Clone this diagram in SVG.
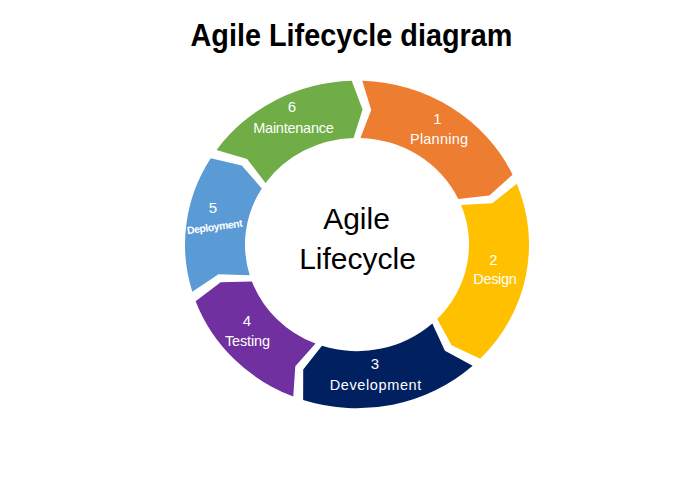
<svg xmlns="http://www.w3.org/2000/svg" width="700" height="478" viewBox="0 0 700 478">
<style>
.seg{stroke:none}
.num{font-family:"Liberation Sans",Arial,sans-serif;font-size:15px;fill:#ffffff;text-anchor:middle}
.lbl{font-family:"Liberation Sans",Arial,sans-serif;font-size:14.5px;fill:#ffffff;text-anchor:middle}
.small{font-family:"Liberation Sans",Arial,sans-serif;font-size:10.5px;font-weight:bold;fill:#ffffff;text-anchor:middle}
.title{font-family:"Liberation Sans",Arial,sans-serif;font-size:32px;font-weight:bold;fill:#000;text-anchor:middle}
.center{font-family:"Liberation Sans",Arial,sans-serif;font-size:30px;fill:#000;text-anchor:middle}
</style>
<rect width="700" height="478" fill="#ffffff"/>
<text class="title" x="351.5" y="46" textLength="322" lengthAdjust="spacingAndGlyphs">Agile Lifecycle diagram</text>
<g id="node-1-planning">
<g transform="translate(357 244.5) scale(1 0.952)"><path class="seg" fill="#ED7D31" d="M5.25,-171.92 A172,172 0 0 1 155.57,-73.37 L132.35,-51.47 L101.30,-47.78 A112,112 0 0 0 3.42,-111.95 L14.23,-141.29 Z"/></g>
<text class="num" x="437.5" y="123.5">1</text>
<text class="lbl" x="439" y="143.5" textLength="58">Planning</text>
</g>
<g id="node-2-design">
<g transform="translate(357 244.5) scale(1 0.952)"><path class="seg" fill="#FFC000" d="M159.76,-63.74 A172,172 0 0 1 123.20,120.02 L94.55,105.94 L80.23,78.15 A112,112 0 0 0 104.03,-41.50 L135.24,-43.29 Z"/></g>
<text class="num" x="493.5" y="264.5">2</text>
<text class="lbl" x="495" y="283.5" textLength="43.5">Design</text>
</g>
<g id="node-3-development">
<g transform="translate(357 244.5) scale(1 0.952)"><path class="seg" fill="#002060" d="M115.65,127.32 A172,172 0 0 1 -53.86,163.35 L-53.77,131.43 L-35.07,106.37 A112,112 0 0 0 75.31,82.90 L87.91,111.52 Z"/></g>
<text class="num" x="375" y="368.5">3</text>
<text class="lbl" x="375.5" y="390" textLength="91.5">Development</text>
</g>
<g id="node-4-testing">
<g transform="translate(357 244.5) scale(1 0.952)"><path class="seg" fill="#7030A0" d="M-63.74,159.76 A172,172 0 0 1 -161.37,59.53 L-136.33,39.74 L-105.08,38.77 A112,112 0 0 0 -41.50,104.03 L-61.69,127.90 Z"/></g>
<text class="num" x="247" y="325.5">4</text>
<text class="lbl" x="247.5" y="346" textLength="45">Testing</text>
</g>
<g id="node-5-deployment">
<g transform="translate(357 244.5) scale(1 0.952)"><path class="seg" fill="#5B9BD5" d="M-164.70,49.57 A172,172 0 0 1 -146.26,-90.51 L-115.24,-82.96 L-95.24,-58.94 A112,112 0 0 0 -107.25,32.28 L-138.50,31.34 Z"/></g>
<text class="num" x="213" y="213">5</text>
<text class="small" x="214.7" y="230.5" textLength="56" transform="rotate(-8 214.7 227)">Deployment</text>
</g>
<g id="node-6-maintenance">
<g transform="translate(357 244.5) scale(1 0.952)"><path class="seg" fill="#70AD47" d="M-140.46,-99.27 A172,172 0 0 1 -5.25,-171.92 L5.57,-141.89 L-3.42,-111.95 A112,112 0 0 0 -91.46,-64.64 L-109.96,-89.84 Z"/></g>
<text class="num" x="292" y="112">6</text>
<text class="lbl" x="293.5" y="132.5" textLength="80.5">Maintenance</text>
</g>
<g id="node-center">
<text class="center" x="356.5" y="229">Agile</text>
<text class="center" x="357.5" y="268.5">Lifecycle</text>
</g>
<g id="connectors"></g>
</svg>
